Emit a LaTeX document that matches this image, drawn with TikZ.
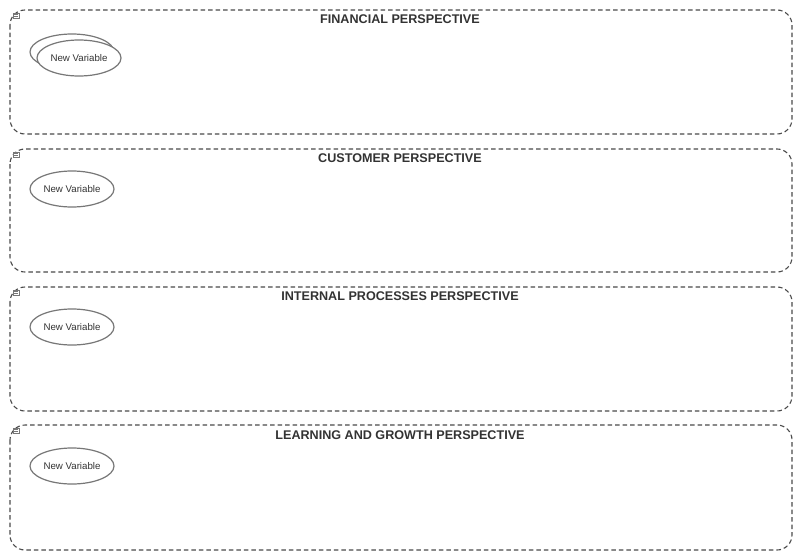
\documentclass[tikz,border=0pt]{standalone}
\usepackage{fontspec}
\setmainfont{Liberation Sans}
\usetikzlibrary{shapes.geometric}
\definecolor{frame}{HTML}{4a4a4a}
\definecolor{ell}{HTML}{777777}
\definecolor{txt}{HTML}{333333}
\tikzset{
  x=1pt,y=-1pt,
  panel/.style={draw=frame,dash pattern=on 4.5pt off 3pt,line width=1.1pt,rounded corners=15pt},
  title/.style={font=\bfseries\fontsize{12.6}{14}\selectfont,text=txt,inner sep=0pt},
  var/.style={ellipse,draw=ell,line width=1.2pt,minimum width=84pt,minimum height=36pt,inner sep=0pt,fill=white,font=\fontsize{9.7}{11}\selectfont,text=txt},
  icon/.style={draw=ell,line width=0.6pt,fill=white}
}
\begin{document}
\begin{tikzpicture}
\useasboundingbox (0,0) rectangle (800,557);
\fill[white] (0,0) rectangle (800,557);
% panels
\draw[panel] (10,10) rectangle (792,134);
\draw[panel] (10,149) rectangle (792,272);
\draw[panel] (10,287) rectangle (792,411);
\draw[panel] (10,425) rectangle (792,550);
% icons
\foreach \y in {15,154,292,430}{
  \draw[icon] (13,\y+3) rectangle (19,\y-2);
  \draw[ell,line width=0.5pt] (14,\y+1) -- (18,\y+1) (14,\y-0.5) -- (18,\y-0.5);
}
% titles
\node[title] (t1) at (400,19.5) {FINANCIAL PERSPECTIVE};
\node[title] (t2) at (400,158.5) {CUSTOMER PERSPECTIVE};
\node[title] (t3) at (400,296.5) {INTERNAL PROCESSES PERSPECTIVE};
\node[title] (t4) at (400,435) {LEARNING AND GROWTH PERSPECTIVE};
% variables
\node[var] (v0) at (72,52) {};
\node[var] (v1) at (79,58) {New Variable};
\node[var] (v2) at (72,189) {New Variable};
\node[var] (v3) at (72,327) {New Variable};
\node[var] (v4) at (72,466) {New Variable};
\end{tikzpicture}
\end{document}
